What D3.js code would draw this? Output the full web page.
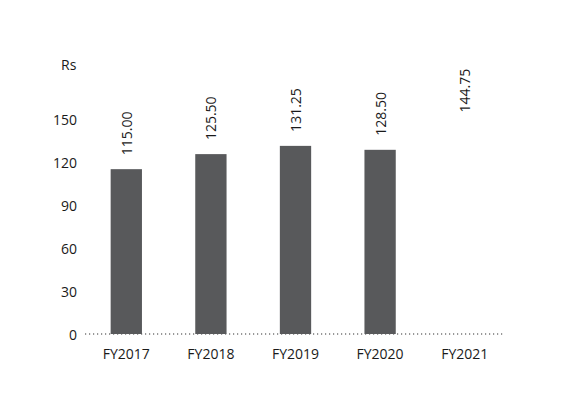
<!DOCTYPE html>
<html><head><meta charset="utf-8">
<script src="https://cdn.jsdelivr.net/npm/d3@7"></script>
<style>body{margin:0;background:#fff}svg{display:block}text{font-family:"Open Sans",sans-serif;fill:#1a1a1a}</style>
</head><body>
<svg id="c" width="562" height="418"></svg>
<script>
const categories = ["FY2017","FY2018","FY2019","FY2020","FY2021"];
const values = [115.00, 125.50, 131.25, 128.50, 144.75];
const valueLabels = ["115.00","125.50","131.25","128.50","144.75"];
const barVisible = [true, true, true, true, false];
const yTicks = [0, 30, 60, 90, 120, 150];
const unitLabel = "Rs";

const svg = d3.select("#c");
const x = d3.scaleBand().domain(categories).range([84, 507]).paddingInner(0.63).paddingOuter(0.315);
const y = d3.scaleLinear().domain([0, 150]).range([334, 119]);

svg.append("line").attr("x1", 85).attr("x2", 504).attr("y1", y(0)).attr("y2", y(0))
  .attr("stroke", "#333").attr("stroke-width", 1.2).attr("stroke-dasharray", "1.2,2.8");

svg.append("g").selectAll("text").data(yTicks).join("text")
  .attr("x", 77).attr("y", d => y(d) + 1.5).attr("dy", "0.35em").attr("text-anchor", "end")
  .attr("font-size", 14).text(d => d);

svg.append("text").attr("x", 61).attr("y", 65).attr("dy", "0.35em").attr("font-size", 14).text(unitLabel);

svg.append("g").selectAll("rect").data(categories.map((c,i)=>({c, v: values[i], vis: barVisible[i]})))
  .join("rect")
  .attr("x", d => x(d.c)).attr("width", x.bandwidth())
  .attr("y", d => y(d.v)).attr("height", d => y(0) - y(d.v))
  .attr("fill", d => d.vis ? "#58595b" : "none");

svg.append("g").selectAll("text").data(categories.map((c,i)=>({c, v: values[i], t: valueLabels[i]})))
  .join("text")
  .attr("transform", d => `translate(${x(d.c) + x.bandwidth()/2 + 0.5},${y(d.v) - 14}) rotate(-90)`)
  .attr("dy", "0.35em").attr("text-anchor", "start").attr("font-size", 14).text(d => d.t);

svg.append("g").selectAll("text").data(categories).join("text")
  .attr("x", d => x(d) + x.bandwidth()/2).attr("y", 354).attr("dy", "0.35em")
  .attr("text-anchor", "middle").attr("font-size", 14).text(d => d);
</script>
</body></html>
